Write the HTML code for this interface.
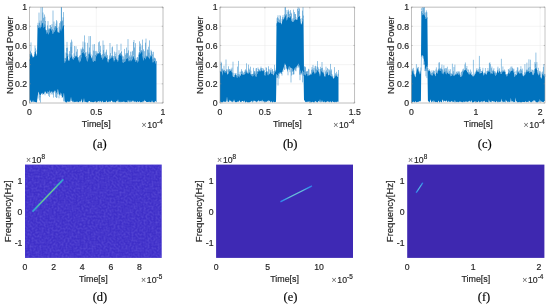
<!DOCTYPE html>
<html><head><meta charset="utf-8"><title>figure</title>
<style>
html,body{margin:0;padding:0;background:#fff;}
svg{display:block}
.t{font-family:"Liberation Sans",Arial,sans-serif;font-size:8.7px;fill:#262626;stroke:#262626;stroke-width:0.18px;}
.l{font-family:"Liberation Sans",Arial,sans-serif;font-size:8.9px;fill:#262626;stroke:#262626;stroke-width:0.18px;}
.c{font-family:"Liberation Serif","Times New Roman",serif;font-size:12.5px;fill:#000;stroke:#000;stroke-width:0.15px;}
</style></head><body>
<svg width="550" height="308" viewBox="0 0 550 308">
<defs>
<filter id="nz" x="0" y="0" width="100%" height="100%">
<feTurbulence type="fractalNoise" baseFrequency="0.5" numOctaves="2" seed="3" result="n"/>
<feColorMatrix in="n" type="matrix" values="0 0 0 0 0.30  0 0 0 0 0.25  0 0 0 0 0.90  1.6 0 0 0 -0.55"/>
</filter>
</defs>
<rect width="550" height="308" fill="#fff"/>
<rect x="29.5" y="7.1" width="133.5" height="95.9" fill="#fff"/>
<line x1="29.50" y1="7.1" x2="29.50" y2="103.0" stroke="#e9e9e9" stroke-width="0.5"/>
<line x1="96.25" y1="7.1" x2="96.25" y2="103.0" stroke="#e9e9e9" stroke-width="0.5"/>
<line x1="163.00" y1="7.1" x2="163.00" y2="103.0" stroke="#e9e9e9" stroke-width="0.5"/>
<line x1="29.5" y1="103.00" x2="163" y2="103.00" stroke="#e9e9e9" stroke-width="0.5"/>
<line x1="29.5" y1="83.82" x2="163" y2="83.82" stroke="#e9e9e9" stroke-width="0.5"/>
<line x1="29.5" y1="64.64" x2="163" y2="64.64" stroke="#e9e9e9" stroke-width="0.5"/>
<line x1="29.5" y1="45.46" x2="163" y2="45.46" stroke="#e9e9e9" stroke-width="0.5"/>
<line x1="29.5" y1="26.28" x2="163" y2="26.28" stroke="#e9e9e9" stroke-width="0.5"/>
<line x1="29.5" y1="7.10" x2="163" y2="7.10" stroke="#e9e9e9" stroke-width="0.5"/>
<polygon points="29.5,60.8 30.0,57.3 30.5,53.1 31.0,51.1 31.5,54.7 32.0,54.2 32.5,57.1 33.0,57.8 33.5,56.3 34.0,57.5 34.5,53.0 35.0,54.1 35.5,49.9 36.0,52.4 36.5,55.2 37.0,56.1 37.5,27.8 38.0,27.5 38.5,27.4 39.0,27.2 39.5,26.6 40.0,28.9 40.5,26.7 41.0,27.6 41.5,25.8 42.0,23.5 42.5,21.8 43.0,23.9 43.5,27.7 44.0,27.2 44.5,26.4 45.0,22.6 45.5,27.9 46.0,31.1 46.5,33.1 47.0,33.9 47.5,31.5 48.0,32.7 48.5,34.7 49.0,33.3 49.5,31.5 50.0,27.1 50.5,28.3 51.0,29.5 51.5,29.8 52.0,31.3 52.5,33.6 53.0,34.2 53.5,31.9 54.0,31.6 54.5,32.0 55.0,31.1 55.5,28.9 56.0,24.9 56.5,25.8 57.0,29.6 57.5,32.0 58.0,32.3 58.5,32.6 59.0,32.8 59.5,32.9 60.0,29.1 60.5,29.1 61.0,31.4 61.5,31.1 62.0,29.7 62.5,25.0 63.0,24.5 63.5,25.2 64.0,26.2 64.5,63.0 65.0,63.0 65.5,60.2 66.0,60.9 66.5,55.2 67.0,51.7 67.5,54.9 68.0,57.0 68.5,61.1 69.0,61.0 69.5,60.1 70.0,58.0 70.5,57.5 71.0,56.4 71.5,56.2 72.0,53.3 72.5,58.5 73.0,59.6 73.5,60.1 74.0,58.6 74.5,57.4 75.0,57.7 75.5,55.6 76.0,56.9 76.5,55.5 77.0,56.2 77.5,56.8 78.0,58.2 78.5,59.2 79.0,62.1 79.5,62.4 80.0,60.1 80.5,62.1 81.0,59.2 81.5,56.0 82.0,52.0 82.5,53.0 83.0,52.5 83.5,51.0 84.0,54.3 84.5,52.2 85.0,56.1 85.5,56.4 86.0,57.2 86.5,57.9 87.0,61.4 87.5,61.2 88.0,60.3 88.5,55.7 89.0,51.5 89.5,52.7 90.0,54.9 90.5,55.3 91.0,56.1 91.5,59.1 92.0,56.6 92.5,59.6 93.0,61.9 93.5,61.4 94.0,61.2 94.5,60.8 95.0,60.5 95.5,61.4 96.0,56.9 96.5,55.1 97.0,55.6 97.5,52.7 98.0,53.9 98.5,52.0 99.0,54.5 99.5,50.5 100.0,53.2 100.5,52.1 101.0,56.0 101.5,57.0 102.0,58.3 102.5,59.3 103.0,59.7 103.5,56.8 104.0,57.9 104.5,55.4 105.0,55.7 105.5,56.3 106.0,57.4 106.5,57.6 107.0,58.3 107.5,60.3 108.0,62.7 108.5,61.8 109.0,59.6 109.5,59.8 110.0,56.6 110.5,58.8 111.0,58.7 111.5,56.7 112.0,53.9 112.5,57.3 113.0,57.4 113.5,57.4 114.0,62.2 114.5,59.1 115.0,60.4 115.5,55.0 116.0,58.6 116.5,59.6 117.0,59.8 117.5,61.3 118.0,62.0 118.5,59.1 119.0,54.3 119.5,53.9 120.0,55.7 120.5,55.6 121.0,50.8 121.5,53.0 122.0,57.9 122.5,60.9 123.0,63.3 123.5,62.7 124.0,61.5 124.5,61.4 125.0,61.9 125.5,60.5 126.0,59.6 126.5,57.9 127.0,58.7 127.5,57.8 128.0,58.3 128.5,60.6 129.0,61.4 129.5,59.2 130.0,62.0 130.5,58.9 131.0,59.5 131.5,61.6 132.0,59.5 132.5,59.2 133.0,58.3 133.5,55.1 134.0,57.5 134.5,59.8 135.0,59.6 135.5,62.3 136.0,61.5 136.5,61.0 137.0,59.6 137.5,62.8 138.0,62.3 138.5,60.3 139.0,55.8 139.5,51.0 140.0,52.6 140.5,53.8 141.0,52.9 141.5,51.0 142.0,49.8 142.5,54.8 143.0,59.2 143.5,61.0 144.0,57.9 144.5,56.9 145.0,58.6 145.5,59.4 146.0,57.7 146.5,56.7 147.0,55.6 147.5,56.6 148.0,56.2 148.5,57.7 149.0,57.1 149.5,59.6 150.0,58.0 150.5,55.3 151.0,55.5 151.5,56.2 152.0,56.3 152.5,61.7 153.0,62.8 153.5,61.5 154.0,61.0 154.5,60.2 155.0,61.4 155.5,63.8 156.0,63.3 156.5,63.6 156.5,102.2 156.0,102.0 155.5,100.9 155.0,100.9 154.5,102.4 154.0,102.2 153.5,102.2 153.0,102.2 152.5,101.7 152.0,100.3 151.5,101.9 151.0,102.3 150.5,102.1 150.0,102.2 149.5,101.8 149.0,101.4 148.5,102.0 148.0,101.9 147.5,101.9 147.0,102.1 146.5,102.1 146.0,101.8 145.5,100.8 145.0,101.4 144.5,99.5 144.0,102.4 143.5,101.5 143.0,100.7 142.5,102.3 142.0,102.3 141.5,102.1 141.0,102.2 140.5,102.2 140.0,102.3 139.5,100.9 139.0,102.1 138.5,102.0 138.0,101.7 137.5,101.0 137.0,102.4 136.5,101.9 136.0,102.0 135.5,101.4 135.0,101.5 134.5,102.2 134.0,100.9 133.5,102.0 133.0,100.0 132.5,102.0 132.0,100.5 131.5,101.9 131.0,101.9 130.5,102.2 130.0,100.0 129.5,102.4 129.0,101.8 128.5,101.8 128.0,99.6 127.5,102.4 127.0,102.2 126.5,102.1 126.0,102.0 125.5,102.2 125.0,102.2 124.5,101.6 124.0,102.2 123.5,101.2 123.0,102.0 122.5,102.0 122.0,101.6 121.5,102.0 121.0,102.3 120.5,102.3 120.0,101.2 119.5,102.3 119.0,101.9 118.5,102.3 118.0,99.3 117.5,101.5 117.0,101.6 116.5,101.1 116.0,102.2 115.5,102.3 115.0,102.4 114.5,101.6 114.0,102.4 113.5,102.0 113.0,101.5 112.5,102.3 112.0,100.7 111.5,100.5 111.0,101.3 110.5,102.3 110.0,101.0 109.5,102.0 109.0,101.4 108.5,101.8 108.0,102.0 107.5,102.0 107.0,102.4 106.5,100.2 106.0,101.4 105.5,102.1 105.0,102.3 104.5,102.1 104.0,101.9 103.5,102.3 103.0,102.2 102.5,100.4 102.0,102.0 101.5,102.4 101.0,101.2 100.5,101.7 100.0,100.4 99.5,101.8 99.0,102.4 98.5,100.9 98.0,100.9 97.5,102.1 97.0,102.3 96.5,101.9 96.0,102.2 95.5,100.9 95.0,101.9 94.5,101.5 94.0,102.2 93.5,102.3 93.0,101.9 92.5,102.2 92.0,101.7 91.5,102.3 91.0,101.4 90.5,102.3 90.0,101.5 89.5,101.1 89.0,101.0 88.5,101.4 88.0,102.4 87.5,102.4 87.0,102.0 86.5,102.3 86.0,102.2 85.5,101.7 85.0,101.8 84.5,102.3 84.0,97.9 83.5,101.6 83.0,101.9 82.5,102.4 82.0,101.9 81.5,98.5 81.0,101.8 80.5,101.5 80.0,101.5 79.5,101.2 79.0,102.2 78.5,102.1 78.0,102.2 77.5,101.9 77.0,101.0 76.5,102.0 76.0,102.1 75.5,102.0 75.0,101.4 74.5,102.3 74.0,102.0 73.5,102.3 73.0,100.3 72.5,102.3 72.0,101.2 71.5,101.0 71.0,96.8 70.5,100.7 70.0,102.3 69.5,101.4 69.0,101.6 68.5,101.9 68.0,101.6 67.5,101.2 67.0,102.4 66.5,102.4 66.0,102.2 65.5,102.3 65.0,101.3 64.5,101.7 64.0,92.4 63.5,94.6 63.0,96.9 62.5,97.1 62.0,97.2 61.5,94.8 61.0,92.5 60.5,93.0 60.0,93.9 59.5,94.8 59.0,95.7 58.5,92.9 58.0,89.0 57.5,90.3 57.0,93.2 56.5,93.1 56.0,91.9 55.5,90.9 55.0,90.4 54.5,90.8 54.0,91.5 53.5,92.3 53.0,93.1 52.5,92.7 52.0,91.0 51.5,91.2 51.0,93.1 50.5,93.1 50.0,91.0 49.5,90.5 49.0,92.1 48.5,92.6 48.0,91.5 47.5,91.5 47.0,93.2 46.5,93.8 46.0,92.4 45.5,91.4 45.0,91.5 44.5,91.9 44.0,93.4 43.5,94.4 43.0,93.5 42.5,92.7 42.0,93.1 41.5,93.6 41.0,94.6 40.5,95.5 40.0,95.3 39.5,95.1 39.0,93.2 38.5,91.6 38.0,94.3 37.5,97.0 37.0,102.2 36.5,102.4 36.0,102.3 35.5,102.0 35.0,102.2 34.5,101.5 34.0,102.2 33.5,102.1 33.0,100.1 32.5,102.2 32.0,101.6 31.5,102.0 31.0,102.4 30.5,99.4 30.0,101.4 29.5,101.8" fill="#0072BD"/>
<path d="M29.5,60.8V59.7 M30.0,57.3V54.0 M30.5,53.1V50.8 M31.0,51.1V42.4 M31.5,54.7V53.1 M32.0,54.2V54.2 M32.5,57.1V56.2 M33.0,57.8V57.0 M33.5,56.3V56.1 M34.0,57.5V57.4 M34.5,53.0V52.3 M35.0,54.1V45.6 M35.5,49.9V48.3 M36.0,52.4V49.8 M36.5,55.2V54.5 M37.0,56.1V55.7 M37.5,27.8V25.1 M38.0,27.5V22.8 M38.5,27.4V25.6 M39.0,27.2V12.6 M39.5,26.6V22.8 M40.0,28.9V20.6 M40.5,26.7V25.5 M41.0,27.6V7.1 M41.5,25.8V20.6 M42.0,23.5V23.1 M42.5,21.8V7.1 M43.0,23.9V12.5 M43.5,27.7V17.8 M44.0,27.2V23.4 M44.5,26.4V14.5 M45.0,22.6V16.8 M45.5,27.9V21.0 M46.0,31.1V30.6 M46.5,33.1V30.0 M47.0,33.9V30.7 M47.5,31.5V25.4 M48.0,32.7V21.1 M48.5,34.7V29.5 M49.0,33.3V28.3 M49.5,31.5V28.8 M50.0,27.1V25.2 M50.5,28.3V25.1 M51.0,29.5V29.2 M51.5,29.8V27.0 M52.0,31.3V24.1 M52.5,33.6V29.2 M53.0,34.2V10.5 M53.5,31.9V30.3 M54.0,31.6V21.5 M54.5,32.0V27.5 M55.0,31.1V25.7 M55.5,28.9V26.0 M56.0,24.9V23.6 M56.5,25.8V20.1 M57.0,29.6V21.3 M57.5,32.0V28.1 M58.0,32.3V32.1 M58.5,32.6V31.9 M59.0,32.8V26.7 M59.5,32.9V23.1 M60.0,29.1V28.7 M60.5,29.1V21.2 M61.0,31.4V22.3 M61.5,31.1V29.7 M62.0,29.7V21.2 M62.5,25.0V20.5 M63.0,24.5V17.3 M63.5,25.2V12.1 M64.0,26.2V25.3 M64.5,63.0V61.4 M65.0,63.0V58.1 M65.5,60.2V58.2 M66.0,60.9V52.5 M66.5,55.2V47.9 M67.0,51.7V41.9 M67.5,54.9V47.7 M68.0,57.0V54.3 M68.5,61.1V60.1 M69.0,61.0V60.9 M69.5,60.1V51.1 M70.0,58.0V53.9 M70.5,57.5V42.5 M71.0,56.4V46.7 M71.5,56.2V39.6 M72.0,53.3V41.6 M72.5,58.5V58.3 M73.0,59.6V58.6 M73.5,60.1V57.1 M74.0,58.6V53.4 M74.5,57.4V46.0 M75.0,57.7V55.9 M75.5,55.6V55.5 M76.0,56.9V46.2 M76.5,55.5V51.7 M77.0,56.2V55.3 M77.5,56.8V49.2 M78.0,58.2V57.1 M78.5,59.2V57.3 M79.0,62.1V60.1 M79.5,62.4V56.1 M80.0,60.1V55.2 M80.5,62.1V54.9 M81.0,59.2V48.6 M81.5,56.0V50.4 M82.0,52.0V49.1 M82.5,53.0V47.4 M83.0,52.5V41.5 M83.5,51.0V48.8 M84.0,54.3V50.5 M84.5,52.2V35.4 M85.0,56.1V42.4 M85.5,56.4V52.7 M86.0,57.2V52.1 M86.5,57.9V56.0 M87.0,61.4V57.8 M87.5,61.2V42.8 M88.0,60.3V51.4 M88.5,55.7V54.2 M89.0,51.5V36.1 M89.5,52.7V47.5 M90.0,54.9V52.4 M90.5,55.3V36.1 M91.0,56.1V54.2 M91.5,59.1V58.6 M92.0,56.6V56.5 M92.5,59.6V55.5 M93.0,61.9V44.4 M93.5,61.4V50.6 M94.0,61.2V60.5 M94.5,60.8V44.1 M95.0,60.5V51.2 M95.5,61.4V55.0 M96.0,56.9V50.8 M96.5,55.1V53.6 M97.0,55.6V51.4 M97.5,52.7V52.6 M98.0,53.9V53.7 M98.5,52.0V42.3 M99.0,54.5V54.3 M99.5,50.5V41.4 M100.0,53.2V49.8 M100.5,52.1V45.8 M101.0,56.0V54.7 M101.5,57.0V55.2 M102.0,58.3V57.6 M102.5,59.3V54.1 M103.0,59.7V40.5 M103.5,56.8V50.1 M104.0,57.9V44.9 M104.5,55.4V54.2 M105.0,55.7V52.6 M105.5,56.3V55.4 M106.0,57.4V51.7 M106.5,57.6V49.6 M107.0,58.3V56.5 M107.5,60.3V54.9 M108.0,62.7V61.9 M108.5,61.8V59.2 M109.0,59.6V59.1 M109.5,59.8V55.6 M110.0,56.6V43.0 M110.5,58.8V53.1 M111.0,58.7V58.0 M111.5,56.7V56.3 M112.0,53.9V47.4 M112.5,57.3V46.5 M113.0,57.4V55.9 M113.5,57.4V56.4 M114.0,62.2V61.5 M114.5,59.1V51.6 M115.0,60.4V55.9 M115.5,55.0V54.4 M116.0,58.6V52.3 M116.5,59.6V58.7 M117.0,59.8V44.2 M117.5,61.3V59.9 M118.0,62.0V58.5 M118.5,59.1V54.8 M119.0,54.3V50.2 M119.5,53.9V53.7 M120.0,55.7V53.7 M120.5,55.6V53.0 M121.0,50.8V43.7 M121.5,53.0V51.2 M122.0,57.9V54.8 M122.5,60.9V56.2 M123.0,63.3V59.5 M123.5,62.7V56.4 M124.0,61.5V59.2 M124.5,61.4V48.9 M125.0,61.9V58.7 M125.5,60.5V54.7 M126.0,59.6V53.1 M126.5,57.9V47.6 M127.0,58.7V53.6 M127.5,57.8V52.9 M128.0,58.3V39.1 M128.5,60.6V50.4 M129.0,61.4V56.8 M129.5,59.2V55.5 M130.0,62.0V58.3 M130.5,58.9V51.7 M131.0,59.5V57.1 M131.5,61.6V55.5 M132.0,59.5V51.6 M132.5,59.2V50.8 M133.0,58.3V56.7 M133.5,55.1V42.0 M134.0,57.5V40.0 M134.5,59.8V47.5 M135.0,59.6V58.4 M135.5,62.3V43.1 M136.0,61.5V59.7 M136.5,61.0V60.0 M137.0,59.6V57.6 M137.5,62.8V57.0 M138.0,62.3V60.4 M138.5,60.3V54.6 M139.0,55.8V52.5 M139.5,51.0V41.3 M140.0,52.6V46.7 M140.5,53.8V43.6 M141.0,52.9V51.4 M141.5,51.0V50.2 M142.0,49.8V45.4 M142.5,54.8V39.6 M143.0,59.2V50.5 M143.5,61.0V49.3 M144.0,57.9V57.5 M144.5,56.9V51.2 M145.0,58.6V55.8 M145.5,59.4V42.7 M146.0,57.7V38.6 M146.5,56.7V55.9 M147.0,55.6V55.5 M147.5,56.6V49.4 M148.0,56.2V50.0 M148.5,57.7V46.7 M149.0,57.1V52.7 M149.5,59.6V40.4 M150.0,58.0V58.0 M150.5,55.3V55.1 M151.0,55.5V49.8 M151.5,56.2V51.0 M152.0,56.3V52.1 M152.5,61.7V54.4 M153.0,62.8V59.0 M153.5,61.5V51.8 M154.0,61.0V57.9 M154.5,60.2V57.6 M155.0,61.4V58.3 M155.5,63.8V58.6 M156.0,63.3V61.3 M156.5,63.6V60.9 M38.0,94.3V98.6 M38.5,91.6V92.1 M39.0,93.2V94.5 M39.5,95.1V100.5 M40.0,95.3V97.4 M40.5,95.5V102.6 M42.0,93.1V93.9 M42.5,92.7V94.8 M44.0,93.4V94.1 M44.5,91.9V92.8 M45.0,91.5V95.3 M45.5,91.4V92.1 M47.0,93.2V93.9 M47.5,91.5V93.4 M48.0,91.5V93.7 M48.5,92.6V95.8 M49.0,92.1V93.6 M49.5,90.5V97.0 M50.0,91.0V91.6 M51.0,93.1V94.5 M51.5,91.2V91.9 M52.0,91.0V94.2 M53.0,93.1V94.7 M53.5,92.3V97.6 M54.0,91.5V92.7 M54.5,90.8V91.7 M55.0,90.4V90.9 M55.5,90.9V97.1 M56.0,91.9V93.5 M56.5,93.1V98.0 M57.0,93.2V97.5 M57.5,90.3V94.3 M59.0,95.7V98.3 M59.5,94.8V95.5 M60.0,93.9V94.4 M60.5,93.0V95.3 M61.0,92.5V93.8 M61.5,94.8V95.5 M62.0,97.2V97.9 M62.5,97.1V97.7 M63.5,94.6V101.4 M64.0,92.4V94.7" fill="none" stroke="#0072BD" stroke-width="0.42"/>
<path d="M61.4,7.1V40" fill="none" stroke="#0072BD" stroke-width="0.7"/>
<rect x="29.5" y="7.1" width="133.5" height="95.9" fill="none" stroke="#8c8c8c" stroke-width="0.5"/>
<line x1="29.50" y1="103.0" x2="29.50" y2="101.7" stroke="#8c8c8c" stroke-width="0.5"/>
<line x1="29.50" y1="7.1" x2="29.50" y2="8.4" stroke="#8c8c8c" stroke-width="0.5"/>
<line x1="96.25" y1="103.0" x2="96.25" y2="101.7" stroke="#8c8c8c" stroke-width="0.5"/>
<line x1="96.25" y1="7.1" x2="96.25" y2="8.4" stroke="#8c8c8c" stroke-width="0.5"/>
<line x1="163.00" y1="103.0" x2="163.00" y2="101.7" stroke="#8c8c8c" stroke-width="0.5"/>
<line x1="163.00" y1="7.1" x2="163.00" y2="8.4" stroke="#8c8c8c" stroke-width="0.5"/>
<line x1="29.5" y1="103.00" x2="30.8" y2="103.00" stroke="#8c8c8c" stroke-width="0.5"/>
<line x1="163" y1="103.00" x2="161.7" y2="103.00" stroke="#8c8c8c" stroke-width="0.5"/>
<text transform="translate(27.10,106.30) scale(1,1.07)" text-anchor="end" class="t">0</text>
<line x1="29.5" y1="83.82" x2="30.8" y2="83.82" stroke="#8c8c8c" stroke-width="0.5"/>
<line x1="163" y1="83.82" x2="161.7" y2="83.82" stroke="#8c8c8c" stroke-width="0.5"/>
<text transform="translate(27.10,87.12) scale(1,1.07)" text-anchor="end" class="t">0.2</text>
<line x1="29.5" y1="64.64" x2="30.8" y2="64.64" stroke="#8c8c8c" stroke-width="0.5"/>
<line x1="163" y1="64.64" x2="161.7" y2="64.64" stroke="#8c8c8c" stroke-width="0.5"/>
<text transform="translate(27.10,67.94) scale(1,1.07)" text-anchor="end" class="t">0.4</text>
<line x1="29.5" y1="45.46" x2="30.8" y2="45.46" stroke="#8c8c8c" stroke-width="0.5"/>
<line x1="163" y1="45.46" x2="161.7" y2="45.46" stroke="#8c8c8c" stroke-width="0.5"/>
<text transform="translate(27.10,48.76) scale(1,1.07)" text-anchor="end" class="t">0.6</text>
<line x1="29.5" y1="26.28" x2="30.8" y2="26.28" stroke="#8c8c8c" stroke-width="0.5"/>
<line x1="163" y1="26.28" x2="161.7" y2="26.28" stroke="#8c8c8c" stroke-width="0.5"/>
<text transform="translate(27.10,29.58) scale(1,1.07)" text-anchor="end" class="t">0.8</text>
<line x1="29.5" y1="7.10" x2="30.8" y2="7.10" stroke="#8c8c8c" stroke-width="0.5"/>
<line x1="163" y1="7.10" x2="161.7" y2="7.10" stroke="#8c8c8c" stroke-width="0.5"/>
<text transform="translate(27.10,10.40) scale(1,1.07)" text-anchor="end" class="t">1</text>
<text transform="translate(29.50,115.00) scale(1,1.07)" text-anchor="middle" class="t">0</text>
<text transform="translate(96.25,115.00) scale(1,1.07)" text-anchor="middle" class="t">0.5</text>
<text transform="translate(163.00,115.00) scale(1,1.07)" text-anchor="middle" class="t">1</text>
<text transform="translate(96.25,126.60) scale(1,1.07)" text-anchor="middle" class="l">Time[s]</text>
<text transform="translate(162.70,127.80) scale(1,1.07)" text-anchor="end" class="t"><tspan fill="#555" stroke="none">×</tspan><tspan dx="0.8">10</tspan><tspan dy="-3.6" font-size="6.4">-4</tspan></text>
<text transform="translate(13.00,55.05) scale(1,1.07) rotate(-90)" text-anchor="middle" class="l">Normalized Power</text>
<rect x="220" y="7.1" width="134.7" height="95.9" fill="#fff"/>
<line x1="220.00" y1="7.1" x2="220.00" y2="103.0" stroke="#e9e9e9" stroke-width="0.5"/>
<line x1="264.90" y1="7.1" x2="264.90" y2="103.0" stroke="#e9e9e9" stroke-width="0.5"/>
<line x1="309.80" y1="7.1" x2="309.80" y2="103.0" stroke="#e9e9e9" stroke-width="0.5"/>
<line x1="354.70" y1="7.1" x2="354.70" y2="103.0" stroke="#e9e9e9" stroke-width="0.5"/>
<line x1="220" y1="103.00" x2="354.7" y2="103.00" stroke="#e9e9e9" stroke-width="0.5"/>
<line x1="220" y1="83.82" x2="354.7" y2="83.82" stroke="#e9e9e9" stroke-width="0.5"/>
<line x1="220" y1="64.64" x2="354.7" y2="64.64" stroke="#e9e9e9" stroke-width="0.5"/>
<line x1="220" y1="45.46" x2="354.7" y2="45.46" stroke="#e9e9e9" stroke-width="0.5"/>
<line x1="220" y1="26.28" x2="354.7" y2="26.28" stroke="#e9e9e9" stroke-width="0.5"/>
<line x1="220" y1="7.10" x2="354.7" y2="7.10" stroke="#e9e9e9" stroke-width="0.5"/>
<polygon points="220.0,72.2 220.5,71.2 221.0,70.0 221.5,70.9 222.0,72.6 222.5,75.8 223.0,71.8 223.5,69.8 224.0,71.5 224.5,72.1 225.0,72.7 225.5,72.4 226.0,69.9 226.5,72.1 227.0,72.4 227.5,75.1 228.0,73.3 228.5,74.0 229.0,72.2 229.5,70.8 230.0,70.3 230.5,71.3 231.0,69.7 231.5,72.5 232.0,71.8 232.5,74.7 233.0,77.0 233.5,77.0 234.0,76.5 234.5,77.6 235.0,75.6 235.5,73.7 236.0,74.0 236.5,75.4 237.0,78.3 237.5,77.3 238.0,75.0 238.5,75.4 239.0,77.4 239.5,76.9 240.0,75.2 240.5,76.0 241.0,73.7 241.5,73.7 242.0,74.1 242.5,74.5 243.0,74.5 243.5,74.0 244.0,75.3 244.5,73.7 245.0,74.1 245.5,73.0 246.0,70.1 246.5,72.4 247.0,72.3 247.5,73.1 248.0,73.7 248.5,73.6 249.0,71.5 249.5,72.0 250.0,73.1 250.5,74.7 251.0,73.6 251.5,75.7 252.0,75.5 252.5,76.3 253.0,76.6 253.5,75.1 254.0,71.5 254.5,73.8 255.0,75.4 255.5,75.9 256.0,76.7 256.5,77.1 257.0,74.3 257.5,73.4 258.0,70.3 258.5,72.1 259.0,70.9 259.5,69.9 260.0,71.9 260.5,70.4 261.0,70.7 261.5,70.2 262.0,69.2 262.5,71.4 263.0,70.4 263.5,69.7 264.0,71.8 264.5,74.2 265.0,75.9 265.5,75.0 266.0,70.8 266.5,70.7 267.0,72.9 267.5,74.0 268.0,75.5 268.5,74.7 269.0,73.0 269.5,74.4 270.0,71.9 270.5,71.8 271.0,73.2 271.5,73.4 272.0,74.3 272.5,73.6 273.0,74.5 273.5,75.6 274.0,73.9 274.5,72.4 275.0,69.6 275.5,71.3 276.0,72.3 276.5,25.6 277.0,23.2 277.5,20.5 278.0,20.9 278.5,22.2 279.0,22.3 279.5,22.5 280.0,23.3 280.5,22.6 281.0,22.0 281.5,25.1 282.0,22.5 282.5,19.6 283.0,18.6 283.5,19.7 284.0,18.9 284.5,16.7 285.0,15.9 285.5,14.6 286.0,17.0 286.5,19.9 287.0,20.5 287.5,17.7 288.0,16.9 288.5,16.4 289.0,17.4 289.5,18.1 290.0,16.7 290.5,15.1 291.0,18.4 291.5,20.1 292.0,21.4 292.5,21.5 293.0,22.2 293.5,21.0 294.0,21.2 294.5,18.9 295.0,20.2 295.5,18.2 296.0,19.4 296.5,19.7 297.0,20.2 297.5,19.0 298.0,17.2 298.5,16.2 299.0,16.5 299.5,14.7 300.0,17.4 300.5,19.8 301.0,24.8 301.5,23.9 302.0,22.7 302.5,20.0 303.0,18.5 303.5,17.9 304.0,73.7 304.5,74.9 305.0,74.0 305.5,75.9 306.0,73.5 306.5,73.8 307.0,73.3 307.5,75.1 308.0,76.6 308.5,74.7 309.0,73.9 309.5,75.7 310.0,73.5 310.5,75.1 311.0,73.5 311.5,74.9 312.0,73.1 312.5,72.3 313.0,70.7 313.5,71.6 314.0,72.0 314.5,72.8 315.0,74.6 315.5,71.6 316.0,73.4 316.5,71.1 317.0,71.5 317.5,69.4 318.0,70.6 318.5,71.5 319.0,72.6 319.5,74.4 320.0,76.7 320.5,73.2 321.0,72.5 321.5,70.1 322.0,71.0 322.5,71.4 323.0,73.2 323.5,72.2 324.0,74.8 324.5,76.4 325.0,76.6 325.5,76.6 326.0,74.5 326.5,73.3 327.0,73.0 327.5,70.7 328.0,74.3 328.5,75.7 329.0,73.8 329.5,75.3 330.0,73.8 330.5,76.2 331.0,75.5 331.5,76.7 332.0,75.6 332.5,75.9 333.0,77.9 333.5,79.1 334.0,77.1 334.5,77.8 335.0,77.2 335.5,75.3 336.0,75.5 336.5,76.1 337.0,74.9 337.5,77.2 338.0,76.4 338.5,76.1 338.5,101.8 338.0,101.8 337.5,101.7 337.0,101.6 336.5,102.2 336.0,102.2 335.5,102.0 335.0,101.6 334.5,102.4 334.0,102.0 333.5,102.1 333.0,101.8 332.5,101.0 332.0,102.3 331.5,102.3 331.0,102.2 330.5,101.0 330.0,102.3 329.5,102.3 329.0,101.3 328.5,101.7 328.0,102.0 327.5,101.3 327.0,101.3 326.5,101.9 326.0,102.0 325.5,102.3 325.0,102.4 324.5,101.6 324.0,101.5 323.5,102.3 323.0,102.0 322.5,101.7 322.0,100.0 321.5,102.0 321.0,102.3 320.5,102.2 320.0,99.0 319.5,102.0 319.0,101.8 318.5,100.7 318.0,101.8 317.5,102.4 317.0,102.2 316.5,101.4 316.0,102.4 315.5,101.0 315.0,101.0 314.5,102.4 314.0,102.2 313.5,102.4 313.0,101.7 312.5,101.7 312.0,102.2 311.5,102.3 311.0,102.2 310.5,102.4 310.0,100.9 309.5,102.2 309.0,101.2 308.5,102.3 308.0,101.1 307.5,101.9 307.0,102.2 306.5,101.9 306.0,101.6 305.5,102.2 305.0,101.5 304.5,99.9 304.0,100.8 303.5,72.8 303.0,71.5 302.5,70.3 302.0,71.8 301.5,73.7 301.0,73.6 300.5,72.0 300.0,69.3 299.5,66.4 299.0,64.7 298.5,63.5 298.0,64.4 297.5,65.4 297.0,66.2 296.5,66.8 296.0,67.2 295.5,67.4 295.0,68.0 294.5,68.8 294.0,69.9 293.5,71.6 293.0,72.7 292.5,70.2 292.0,67.9 291.5,68.0 291.0,68.1 290.5,67.5 290.0,67.5 289.5,66.7 289.0,65.9 288.5,68.4 288.0,71.2 287.5,71.0 287.0,68.4 286.5,66.9 286.0,65.8 285.5,64.7 285.0,63.6 284.5,63.9 284.0,66.4 283.5,68.2 283.0,69.4 282.5,70.9 282.0,72.7 281.5,72.8 281.0,72.6 280.5,72.4 280.0,72.6 279.5,72.7 279.0,72.9 278.5,73.7 278.0,74.9 277.5,76.0 277.0,74.8 276.5,73.7 276.0,101.9 275.5,101.8 275.0,102.3 274.5,102.1 274.0,102.2 273.5,101.3 273.0,102.2 272.5,102.4 272.0,102.1 271.5,101.0 271.0,102.3 270.5,102.2 270.0,101.3 269.5,101.3 269.0,100.2 268.5,100.4 268.0,102.2 267.5,100.8 267.0,101.0 266.5,102.1 266.0,101.9 265.5,101.7 265.0,101.5 264.5,101.9 264.0,101.6 263.5,101.1 263.0,102.2 262.5,99.6 262.0,102.2 261.5,100.2 261.0,101.7 260.5,101.0 260.0,100.8 259.5,102.0 259.0,100.5 258.5,100.2 258.0,102.1 257.5,101.0 257.0,101.8 256.5,102.4 256.0,101.1 255.5,101.7 255.0,101.0 254.5,100.5 254.0,101.9 253.5,100.3 253.0,102.4 252.5,102.2 252.0,100.5 251.5,101.6 251.0,101.2 250.5,102.0 250.0,102.1 249.5,102.3 249.0,102.4 248.5,102.2 248.0,102.3 247.5,102.4 247.0,102.1 246.5,101.6 246.0,102.2 245.5,102.4 245.0,102.0 244.5,100.2 244.0,102.2 243.5,101.4 243.0,101.2 242.5,101.1 242.0,101.1 241.5,101.8 241.0,102.3 240.5,102.0 240.0,101.5 239.5,100.1 239.0,101.7 238.5,101.8 238.0,101.2 237.5,101.7 237.0,101.9 236.5,102.3 236.0,102.1 235.5,102.3 235.0,101.9 234.5,101.2 234.0,99.3 233.5,101.9 233.0,101.0 232.5,102.3 232.0,102.0 231.5,101.5 231.0,101.2 230.5,100.3 230.0,102.1 229.5,99.5 229.0,102.1 228.5,101.9 228.0,101.4 227.5,101.7 227.0,96.4 226.5,101.8 226.0,101.3 225.5,102.1 225.0,102.1 224.5,101.7 224.0,101.6 223.5,101.6 223.0,101.9 222.5,102.4 222.0,101.9 221.5,102.4 221.0,102.1 220.5,101.8 220.0,101.8" fill="#0072BD"/>
<path d="M220.0,72.2V71.7 M220.5,71.2V71.0 M221.0,70.0V61.7 M221.5,70.9V62.8 M222.0,72.6V69.3 M222.5,75.8V68.6 M223.0,71.8V70.5 M223.5,69.8V69.6 M224.0,71.5V65.7 M224.5,72.1V69.9 M225.0,72.7V70.5 M225.5,72.4V71.1 M226.0,69.9V59.5 M226.5,72.1V69.5 M227.0,72.4V69.4 M227.5,75.1V74.9 M228.0,73.3V69.3 M228.5,74.0V66.3 M229.0,72.2V70.4 M229.5,70.8V69.1 M230.0,70.3V69.2 M230.5,71.3V70.6 M231.0,69.7V68.7 M231.5,72.5V69.6 M232.0,71.8V67.6 M232.5,74.7V72.3 M233.0,77.0V61.7 M233.5,77.0V76.8 M234.0,76.5V73.0 M234.5,77.6V75.1 M235.0,75.6V75.2 M235.5,73.7V73.3 M236.0,74.0V73.0 M236.5,75.4V74.9 M237.0,78.3V75.3 M237.5,77.3V66.6 M238.0,75.0V74.1 M238.5,75.4V60.9 M239.0,77.4V74.4 M239.5,76.9V74.6 M240.0,75.2V71.7 M240.5,76.0V75.8 M241.0,73.7V71.7 M241.5,73.7V69.2 M242.0,74.1V70.8 M242.5,74.5V71.5 M243.0,74.5V74.1 M243.5,74.0V72.6 M244.0,75.3V75.0 M244.5,73.7V71.9 M245.0,74.1V70.3 M245.5,73.0V69.3 M246.0,70.1V70.1 M246.5,72.4V63.3 M247.0,72.3V70.6 M247.5,73.1V72.5 M248.0,73.7V73.4 M248.5,73.6V64.6 M249.0,71.5V68.5 M249.5,72.0V69.6 M250.0,73.1V73.0 M250.5,74.7V66.7 M251.0,73.6V70.7 M251.5,75.7V74.2 M252.0,75.5V73.8 M252.5,76.3V74.0 M253.0,76.6V74.0 M253.5,75.1V67.8 M254.0,71.5V70.8 M254.5,73.8V71.2 M255.0,75.4V71.3 M255.5,75.9V73.7 M256.0,76.7V68.4 M256.5,77.1V68.0 M257.0,74.3V71.6 M257.5,73.4V71.2 M258.0,70.3V67.5 M258.5,72.1V68.9 M259.0,70.9V69.8 M259.5,69.9V69.5 M260.0,71.9V70.4 M260.5,70.4V68.4 M261.0,70.7V66.6 M261.5,70.2V68.3 M262.0,69.2V68.0 M262.5,71.4V70.8 M263.0,70.4V68.2 M263.5,69.7V68.9 M264.0,71.8V71.0 M264.5,74.2V69.9 M265.0,75.9V75.1 M265.5,75.0V72.0 M266.0,70.8V67.2 M266.5,70.7V67.9 M267.0,72.9V71.1 M267.5,74.0V71.7 M268.0,75.5V72.3 M268.5,74.7V66.3 M269.0,73.0V69.0 M269.5,74.4V74.3 M270.0,71.9V69.8 M270.5,71.8V70.6 M271.0,73.2V67.8 M271.5,73.4V72.5 M272.0,74.3V69.9 M272.5,73.6V69.0 M273.0,74.5V71.4 M273.5,75.6V74.5 M274.0,73.9V71.2 M274.5,72.4V64.8 M275.0,69.6V68.6 M275.5,71.3V70.5 M276.0,72.3V71.2 M276.5,25.6V23.0 M277.0,23.2V18.2 M277.5,20.5V17.2 M278.0,20.9V15.3 M278.5,22.2V18.4 M279.0,22.3V22.0 M279.5,22.5V19.6 M280.0,23.3V15.1 M280.5,22.6V16.1 M281.0,22.0V21.7 M281.5,25.1V23.9 M282.0,22.5V19.1 M282.5,19.6V17.2 M283.0,18.6V15.2 M283.5,19.7V18.8 M284.0,18.9V17.2 M284.5,16.7V14.3 M285.0,15.9V7.1 M285.5,14.6V7.1 M286.0,17.0V14.2 M286.5,19.9V14.3 M287.0,20.5V10.0 M287.5,17.7V17.5 M288.0,16.9V11.9 M288.5,16.4V9.6 M289.0,17.4V11.2 M289.5,18.1V14.0 M290.0,16.7V16.7 M290.5,15.1V10.1 M291.0,18.4V12.6 M291.5,20.1V13.6 M292.0,21.4V20.7 M292.5,21.5V18.5 M293.0,22.2V21.6 M293.5,21.0V9.6 M294.0,21.2V18.2 M294.5,18.9V12.0 M295.0,20.2V14.0 M295.5,18.2V14.1 M296.0,19.4V17.2 M296.5,19.7V19.6 M297.0,20.2V19.1 M297.5,19.0V9.0 M298.0,17.2V7.1 M298.5,16.2V11.0 M299.0,16.5V7.5 M299.5,14.7V8.7 M300.0,17.4V16.4 M300.5,19.8V19.3 M301.0,24.8V24.6 M301.5,23.9V23.6 M302.0,22.7V18.0 M302.5,20.0V10.6 M303.0,18.5V7.1 M303.5,17.9V15.6 M304.0,73.7V70.3 M304.5,74.9V66.4 M305.0,74.0V66.5 M305.5,75.9V67.2 M306.0,73.5V72.0 M306.5,73.8V71.2 M307.0,73.3V71.6 M307.5,75.1V70.9 M308.0,76.6V74.6 M308.5,74.7V68.8 M309.0,73.9V69.3 M309.5,75.7V75.5 M310.0,73.5V72.9 M310.5,75.1V74.9 M311.0,73.5V73.3 M311.5,74.9V69.8 M312.0,73.1V67.1 M312.5,72.3V69.5 M313.0,70.7V64.9 M313.5,71.6V69.8 M314.0,72.0V68.0 M314.5,72.8V72.6 M315.0,74.6V66.3 M315.5,71.6V65.8 M316.0,73.4V68.7 M316.5,71.1V69.7 M317.0,71.5V66.4 M317.5,69.4V61.1 M318.0,70.6V67.1 M318.5,71.5V68.7 M319.0,72.6V72.3 M319.5,74.4V73.8 M320.0,76.7V69.0 M320.5,73.2V66.8 M321.0,72.5V69.3 M321.5,70.1V68.0 M322.0,71.0V62.0 M322.5,71.4V67.8 M323.0,73.2V71.9 M323.5,72.2V71.8 M324.0,74.8V69.8 M324.5,76.4V76.2 M325.0,76.6V74.1 M325.5,76.6V71.5 M326.0,74.5V66.7 M326.5,73.3V70.3 M327.0,73.0V72.6 M327.5,70.7V68.1 M328.0,74.3V69.4 M328.5,75.7V75.2 M329.0,73.8V69.2 M329.5,75.3V70.3 M330.0,73.8V72.6 M330.5,76.2V63.9 M331.0,75.5V70.7 M331.5,76.7V69.4 M332.0,75.6V74.0 M332.5,75.9V75.5 M333.0,77.9V77.8 M333.5,79.1V79.0 M334.0,77.1V76.4 M334.5,77.8V67.1 M335.0,77.2V75.2 M335.5,75.3V73.2 M336.0,75.5V74.2 M336.5,76.1V71.8 M337.0,74.9V74.8 M337.5,77.2V76.8 M338.0,76.4V73.7 M338.5,76.1V70.0 M276.5,73.7V74.4 M277.0,74.8V78.0 M277.5,76.0V77.7 M278.0,74.9V85.5 M278.5,73.7V76.3 M279.0,72.9V78.6 M279.5,72.7V74.0 M280.0,72.6V73.4 M280.5,72.4V72.9 M281.0,72.6V73.6 M281.5,72.8V74.0 M282.0,72.7V75.6 M282.5,70.9V71.4 M283.0,69.4V71.8 M284.0,66.4V69.4 M284.5,63.9V70.0 M285.0,63.6V65.1 M286.0,65.8V69.3 M286.5,66.9V68.4 M287.0,68.4V69.1 M287.5,71.0V71.5 M288.0,71.2V75.3 M289.0,65.9V68.8 M289.5,66.7V70.1 M290.0,67.5V72.2 M290.5,67.5V68.1 M291.0,68.1V82.5 M291.5,68.0V75.5 M292.0,67.9V68.3 M292.5,70.2V71.6 M293.0,72.7V74.9 M293.5,71.6V74.2 M294.0,69.9V74.3 M294.5,68.8V69.9 M295.0,68.0V68.7 M295.5,67.4V70.6 M296.0,67.2V71.3 M296.5,66.8V68.3 M297.0,66.2V66.6 M298.0,64.4V68.1 M298.5,63.5V66.4 M299.0,64.7V67.2 M299.5,66.4V74.7 M300.0,69.3V80.2 M300.5,72.0V74.7 M301.0,73.6V74.2 M302.0,71.8V75.3 M302.5,70.3V82.4 M303.0,71.5V71.9 M303.5,72.8V75.9" fill="none" stroke="#0072BD" stroke-width="0.42"/>
<rect x="220" y="7.1" width="134.7" height="95.9" fill="none" stroke="#8c8c8c" stroke-width="0.5"/>
<line x1="220.00" y1="103.0" x2="220.00" y2="101.7" stroke="#8c8c8c" stroke-width="0.5"/>
<line x1="220.00" y1="7.1" x2="220.00" y2="8.4" stroke="#8c8c8c" stroke-width="0.5"/>
<line x1="264.90" y1="103.0" x2="264.90" y2="101.7" stroke="#8c8c8c" stroke-width="0.5"/>
<line x1="264.90" y1="7.1" x2="264.90" y2="8.4" stroke="#8c8c8c" stroke-width="0.5"/>
<line x1="309.80" y1="103.0" x2="309.80" y2="101.7" stroke="#8c8c8c" stroke-width="0.5"/>
<line x1="309.80" y1="7.1" x2="309.80" y2="8.4" stroke="#8c8c8c" stroke-width="0.5"/>
<line x1="354.70" y1="103.0" x2="354.70" y2="101.7" stroke="#8c8c8c" stroke-width="0.5"/>
<line x1="354.70" y1="7.1" x2="354.70" y2="8.4" stroke="#8c8c8c" stroke-width="0.5"/>
<line x1="220" y1="103.00" x2="221.3" y2="103.00" stroke="#8c8c8c" stroke-width="0.5"/>
<line x1="354.7" y1="103.00" x2="353.4" y2="103.00" stroke="#8c8c8c" stroke-width="0.5"/>
<text transform="translate(217.60,106.30) scale(1,1.07)" text-anchor="end" class="t">0</text>
<line x1="220" y1="83.82" x2="221.3" y2="83.82" stroke="#8c8c8c" stroke-width="0.5"/>
<line x1="354.7" y1="83.82" x2="353.4" y2="83.82" stroke="#8c8c8c" stroke-width="0.5"/>
<text transform="translate(217.60,87.12) scale(1,1.07)" text-anchor="end" class="t">0.2</text>
<line x1="220" y1="64.64" x2="221.3" y2="64.64" stroke="#8c8c8c" stroke-width="0.5"/>
<line x1="354.7" y1="64.64" x2="353.4" y2="64.64" stroke="#8c8c8c" stroke-width="0.5"/>
<text transform="translate(217.60,67.94) scale(1,1.07)" text-anchor="end" class="t">0.4</text>
<line x1="220" y1="45.46" x2="221.3" y2="45.46" stroke="#8c8c8c" stroke-width="0.5"/>
<line x1="354.7" y1="45.46" x2="353.4" y2="45.46" stroke="#8c8c8c" stroke-width="0.5"/>
<text transform="translate(217.60,48.76) scale(1,1.07)" text-anchor="end" class="t">0.6</text>
<line x1="220" y1="26.28" x2="221.3" y2="26.28" stroke="#8c8c8c" stroke-width="0.5"/>
<line x1="354.7" y1="26.28" x2="353.4" y2="26.28" stroke="#8c8c8c" stroke-width="0.5"/>
<text transform="translate(217.60,29.58) scale(1,1.07)" text-anchor="end" class="t">0.8</text>
<line x1="220" y1="7.10" x2="221.3" y2="7.10" stroke="#8c8c8c" stroke-width="0.5"/>
<line x1="354.7" y1="7.10" x2="353.4" y2="7.10" stroke="#8c8c8c" stroke-width="0.5"/>
<text transform="translate(217.60,10.40) scale(1,1.07)" text-anchor="end" class="t">1</text>
<text transform="translate(220.00,115.00) scale(1,1.07)" text-anchor="middle" class="t">0</text>
<text transform="translate(264.90,115.00) scale(1,1.07)" text-anchor="middle" class="t">0.5</text>
<text transform="translate(309.80,115.00) scale(1,1.07)" text-anchor="middle" class="t">1</text>
<text transform="translate(354.70,115.00) scale(1,1.07)" text-anchor="middle" class="t">1.5</text>
<text transform="translate(287.35,126.60) scale(1,1.07)" text-anchor="middle" class="l">Time[s]</text>
<text transform="translate(354.40,127.80) scale(1,1.07)" text-anchor="end" class="t"><tspan fill="#555" stroke="none">×</tspan><tspan dx="0.8">10</tspan><tspan dy="-3.6" font-size="6.4">-4</tspan></text>
<text transform="translate(202.80,55.05) scale(1,1.07) rotate(-90)" text-anchor="middle" class="l">Normalized Power</text>
<rect x="411.4" y="7.1" width="133.60000000000002" height="95.9" fill="#fff"/>
<line x1="411.40" y1="7.1" x2="411.40" y2="103.0" stroke="#e9e9e9" stroke-width="0.5"/>
<line x1="475.79" y1="7.1" x2="475.79" y2="103.0" stroke="#e9e9e9" stroke-width="0.5"/>
<line x1="540.17" y1="7.1" x2="540.17" y2="103.0" stroke="#e9e9e9" stroke-width="0.5"/>
<line x1="411.4" y1="103.00" x2="545.0" y2="103.00" stroke="#e9e9e9" stroke-width="0.5"/>
<line x1="411.4" y1="83.82" x2="545.0" y2="83.82" stroke="#e9e9e9" stroke-width="0.5"/>
<line x1="411.4" y1="64.64" x2="545.0" y2="64.64" stroke="#e9e9e9" stroke-width="0.5"/>
<line x1="411.4" y1="45.46" x2="545.0" y2="45.46" stroke="#e9e9e9" stroke-width="0.5"/>
<line x1="411.4" y1="26.28" x2="545.0" y2="26.28" stroke="#e9e9e9" stroke-width="0.5"/>
<line x1="411.4" y1="7.10" x2="545.0" y2="7.10" stroke="#e9e9e9" stroke-width="0.5"/>
<polygon points="411.4,75.8 411.9,73.4 412.4,70.5 412.9,70.6 413.4,71.8 413.9,74.3 414.4,74.0 414.9,76.3 415.4,77.6 415.9,74.6 416.4,71.5 416.9,70.2 417.4,68.9 417.9,67.5 418.4,71.2 418.9,71.6 419.4,72.4 419.9,74.6 420.4,73.0 420.9,70.6 421.4,10.1 421.9,11.8 422.4,14.0 422.9,15.5 423.4,13.3 423.9,15.0 424.4,14.0 424.9,16.1 425.4,18.0 425.9,19.2 426.4,18.2 426.9,17.5 427.4,18.9 427.9,71.0 428.4,70.4 428.9,71.4 429.4,70.5 429.9,70.8 430.4,72.5 430.9,74.9 431.4,75.4 431.9,74.2 432.4,76.3 432.9,74.1 433.4,73.5 433.9,72.6 434.4,73.6 434.9,75.0 435.4,76.5 435.9,73.0 436.4,72.9 436.9,72.4 437.4,74.3 437.9,71.5 438.4,69.8 438.9,69.1 439.4,69.1 439.9,70.9 440.4,71.1 440.9,70.2 441.4,67.8 441.9,73.6 442.4,73.3 442.9,73.5 443.4,74.5 443.9,70.6 444.4,72.6 444.9,71.0 445.4,71.4 445.9,74.2 446.4,74.2 446.9,72.4 447.4,73.0 447.9,73.0 448.4,74.3 448.9,72.6 449.4,74.5 449.9,73.9 450.4,74.9 450.9,76.4 451.4,75.2 451.9,76.0 452.4,73.1 452.9,75.6 453.4,75.6 453.9,75.6 454.4,75.7 454.9,74.0 455.4,75.0 455.9,74.0 456.4,73.4 456.9,75.1 457.4,73.1 457.9,73.6 458.4,75.1 458.9,74.3 459.4,73.3 459.9,75.6 460.4,76.7 460.9,77.0 461.4,76.2 461.9,75.9 462.4,75.1 462.9,73.1 463.4,71.6 463.9,70.8 464.4,70.2 464.9,70.0 465.4,69.9 465.9,69.5 466.4,71.0 466.9,70.8 467.4,73.1 467.9,71.0 468.4,72.5 468.9,74.6 469.4,74.5 469.9,73.5 470.4,72.7 470.9,74.3 471.4,74.7 471.9,75.2 472.4,75.8 472.9,76.5 473.4,75.9 473.9,76.4 474.4,75.1 474.9,73.5 475.4,73.5 475.9,73.9 476.4,69.4 476.9,70.7 477.4,71.6 477.9,71.7 478.4,72.2 478.9,71.5 479.4,71.7 479.9,74.1 480.4,72.5 480.9,73.4 481.4,72.4 481.9,72.9 482.4,71.1 482.9,71.6 483.4,73.7 483.9,76.0 484.4,73.3 484.9,72.8 485.4,73.4 485.9,74.3 486.4,74.7 486.9,73.2 487.4,72.6 487.9,69.6 488.4,72.1 488.9,71.4 489.4,72.1 489.9,70.1 490.4,70.9 490.9,74.4 491.4,72.7 491.9,73.5 492.4,73.3 492.9,73.9 493.4,70.8 493.9,70.6 494.4,71.7 494.9,74.9 495.4,76.2 495.9,74.5 496.4,75.0 496.9,72.9 497.4,69.0 497.9,72.1 498.4,73.2 498.9,70.6 499.4,70.9 499.9,71.4 500.4,73.0 500.9,73.9 501.4,74.1 501.9,73.7 502.4,70.8 502.9,72.2 503.4,70.5 503.9,72.2 504.4,71.2 504.9,71.2 505.4,73.1 505.9,75.1 506.4,74.3 506.9,77.1 507.4,74.9 507.9,73.2 508.4,71.6 508.9,73.7 509.4,73.4 509.9,72.7 510.4,72.0 510.9,71.1 511.4,71.0 511.9,71.1 512.4,70.3 512.9,70.2 513.4,71.7 513.9,72.7 514.4,76.2 514.9,76.9 515.4,74.9 515.9,73.7 516.4,75.3 516.9,74.9 517.4,72.5 517.9,71.3 518.4,71.9 518.9,72.7 519.4,73.2 519.9,73.8 520.4,73.2 520.9,73.1 521.4,72.4 521.9,73.4 522.4,74.0 522.9,76.0 523.4,76.1 523.9,76.6 524.4,74.5 524.9,75.0 525.4,74.1 525.9,73.2 526.4,71.1 526.9,69.9 527.4,71.3 527.9,71.9 528.4,70.4 528.9,72.1 529.4,73.2 529.9,72.1 530.4,71.0 530.9,72.4 531.4,72.1 531.9,71.6 532.4,74.4 532.9,74.7 533.4,75.2 533.9,74.1 534.4,72.6 534.9,68.4 535.4,67.4 535.9,68.9 536.4,67.8 536.9,69.6 537.4,71.0 537.9,74.3 538.4,75.1 538.9,75.6 539.4,73.8 539.9,72.2 540.4,75.8 540.9,78.2 541.4,78.7 541.9,76.8 542.4,73.2 542.9,73.8 543.4,75.7 543.9,75.1 544.4,75.8 544.9,77.0 544.9,101.0 544.4,100.9 543.9,101.7 543.4,102.2 542.9,102.1 542.4,101.8 541.9,102.2 541.4,101.0 540.9,102.0 540.4,101.3 539.9,99.0 539.4,102.3 538.9,101.1 538.4,102.1 537.9,102.4 537.4,102.2 536.9,102.2 536.4,102.3 535.9,102.2 535.4,101.5 534.9,100.0 534.4,100.7 533.9,102.3 533.4,99.9 532.9,101.0 532.4,101.6 531.9,102.4 531.4,101.9 530.9,101.5 530.4,102.4 529.9,101.4 529.4,101.1 528.9,100.5 528.4,102.4 527.9,101.7 527.4,102.1 526.9,101.8 526.4,102.3 525.9,102.1 525.4,100.9 524.9,102.3 524.4,102.0 523.9,102.1 523.4,101.9 522.9,101.8 522.4,102.1 521.9,101.9 521.4,102.4 520.9,102.2 520.4,102.3 519.9,102.4 519.4,101.7 518.9,102.1 518.4,102.2 517.9,102.4 517.4,102.2 516.9,101.6 516.4,101.0 515.9,102.4 515.4,97.6 514.9,102.1 514.4,101.9 513.9,102.2 513.4,101.8 512.9,101.4 512.4,101.6 511.9,101.1 511.4,102.3 510.9,97.7 510.4,101.8 509.9,102.1 509.4,102.3 508.9,100.9 508.4,102.2 507.9,102.0 507.4,102.3 506.9,100.5 506.4,101.8 505.9,99.6 505.4,102.4 504.9,102.2 504.4,101.5 503.9,101.9 503.4,102.2 502.9,100.7 502.4,101.9 501.9,102.4 501.4,98.4 500.9,101.7 500.4,101.7 499.9,101.8 499.4,102.3 498.9,101.3 498.4,102.3 497.9,102.2 497.4,102.2 496.9,100.8 496.4,101.6 495.9,101.9 495.4,102.3 494.9,102.1 494.4,101.3 493.9,101.8 493.4,101.6 492.9,101.0 492.4,101.5 491.9,100.5 491.4,102.4 490.9,101.5 490.4,102.2 489.9,101.7 489.4,101.5 488.9,99.3 488.4,102.4 487.9,102.4 487.4,102.1 486.9,102.0 486.4,101.7 485.9,101.7 485.4,102.3 484.9,102.1 484.4,100.4 483.9,101.5 483.4,101.4 482.9,101.1 482.4,102.2 481.9,102.3 481.4,100.9 480.9,101.5 480.4,102.2 479.9,101.5 479.4,102.4 478.9,102.0 478.4,100.4 477.9,102.2 477.4,101.9 476.9,102.2 476.4,101.7 475.9,101.4 475.4,101.8 474.9,101.4 474.4,101.4 473.9,101.9 473.4,102.2 472.9,102.2 472.4,102.4 471.9,102.0 471.4,100.1 470.9,101.8 470.4,101.6 469.9,101.7 469.4,100.5 468.9,101.4 468.4,101.3 467.9,102.2 467.4,101.8 466.9,101.6 466.4,101.8 465.9,101.4 465.4,101.6 464.9,102.2 464.4,101.6 463.9,102.4 463.4,101.2 462.9,102.0 462.4,102.3 461.9,102.3 461.4,101.8 460.9,102.0 460.4,101.5 459.9,101.5 459.4,101.5 458.9,102.4 458.4,101.7 457.9,102.3 457.4,101.8 456.9,101.7 456.4,101.9 455.9,102.4 455.4,101.8 454.9,99.7 454.4,102.4 453.9,102.0 453.4,102.0 452.9,101.1 452.4,102.2 451.9,101.6 451.4,100.7 450.9,102.3 450.4,101.4 449.9,102.1 449.4,101.4 448.9,102.0 448.4,100.6 447.9,102.3 447.4,101.8 446.9,101.3 446.4,100.1 445.9,102.1 445.4,101.0 444.9,101.1 444.4,100.6 443.9,102.1 443.4,101.6 442.9,99.6 442.4,100.1 441.9,102.3 441.4,102.2 440.9,101.8 440.4,101.3 439.9,102.3 439.4,102.4 438.9,101.3 438.4,100.5 437.9,102.2 437.4,102.4 436.9,101.8 436.4,102.3 435.9,101.8 435.4,102.3 434.9,102.2 434.4,101.4 433.9,100.1 433.4,102.3 432.9,102.2 432.4,100.4 431.9,102.3 431.4,102.2 430.9,100.8 430.4,99.3 429.9,102.2 429.4,102.4 428.9,100.8 428.4,102.1 427.9,100.4 427.4,65.1 426.9,66.1 426.4,67.8 425.9,69.4 425.4,70.1 424.9,66.5 424.4,63.0 423.9,59.5 423.4,56.3 422.9,55.6 422.4,55.3 421.9,55.2 421.4,56.0 420.9,102.0 420.4,100.8 419.9,101.1 419.4,101.3 418.9,102.1 418.4,101.6 417.9,102.1 417.4,101.8 416.9,102.4 416.4,101.9 415.9,102.3 415.4,100.7 414.9,102.2 414.4,102.3 413.9,102.0 413.4,101.2 412.9,102.4 412.4,101.9 411.9,101.7 411.4,101.8" fill="#0072BD"/>
<path d="M411.4,75.8V75.1 M411.9,73.4V70.9 M412.4,70.5V68.8 M412.9,70.6V70.0 M413.4,71.8V67.9 M413.9,74.3V70.6 M414.4,74.0V74.0 M414.9,76.3V75.8 M415.4,77.6V77.0 M415.9,74.6V73.8 M416.4,71.5V64.1 M416.9,70.2V69.5 M417.4,68.9V68.2 M417.9,67.5V66.9 M418.4,71.2V67.1 M418.9,71.6V70.7 M419.4,72.4V71.6 M419.9,74.6V73.2 M420.4,73.0V70.5 M420.9,70.6V67.5 M421.4,10.1V8.2 M421.9,11.8V10.8 M422.4,14.0V7.1 M422.9,15.5V13.2 M423.4,13.3V7.7 M423.9,15.0V7.1 M424.4,14.0V7.1 M424.9,16.1V12.8 M425.4,18.0V16.6 M425.9,19.2V12.2 M426.4,18.2V10.4 M426.9,17.5V12.2 M427.4,18.9V17.1 M427.9,71.0V68.0 M428.4,70.4V70.1 M428.9,71.4V70.0 M429.4,70.5V69.2 M429.9,70.8V70.5 M430.4,72.5V71.5 M430.9,74.9V74.4 M431.4,75.4V73.1 M431.9,74.2V70.4 M432.4,76.3V72.8 M432.9,74.1V72.0 M433.4,73.5V70.3 M433.9,72.6V71.2 M434.4,73.6V70.8 M434.9,75.0V73.8 M435.4,76.5V76.0 M435.9,73.0V69.5 M436.4,72.9V67.4 M436.9,72.4V72.1 M437.4,74.3V70.4 M437.9,71.5V71.4 M438.4,69.8V68.7 M438.9,69.1V62.7 M439.4,69.1V62.2 M439.9,70.9V68.4 M440.4,71.1V68.7 M440.9,70.2V68.3 M441.4,67.8V67.3 M441.9,73.6V64.5 M442.4,73.3V69.2 M442.9,73.5V70.3 M443.4,74.5V72.9 M443.9,70.6V65.3 M444.4,72.6V69.3 M444.9,71.0V68.2 M445.4,71.4V70.9 M445.9,74.2V68.0 M446.4,74.2V68.4 M446.9,72.4V71.3 M447.4,73.0V66.7 M447.9,73.0V72.0 M448.4,74.3V74.3 M448.9,72.6V69.4 M449.4,74.5V71.0 M449.9,73.9V72.8 M450.4,74.9V69.2 M450.9,76.4V73.6 M451.4,75.2V73.5 M451.9,76.0V73.8 M452.4,73.1V63.7 M452.9,75.6V72.8 M453.4,75.6V71.2 M453.9,75.6V67.0 M454.4,75.7V75.7 M454.9,74.0V64.6 M455.4,75.0V73.8 M455.9,74.0V73.7 M456.4,73.4V71.6 M456.9,75.1V72.3 M457.4,73.1V73.0 M457.9,73.6V71.2 M458.4,75.1V71.6 M458.9,74.3V72.8 M459.4,73.3V71.4 M459.9,75.6V72.8 M460.4,76.7V74.9 M460.9,77.0V76.8 M461.4,76.2V72.0 M461.9,75.9V71.5 M462.4,75.1V70.7 M462.9,73.1V69.3 M463.4,71.6V68.6 M463.9,70.8V70.6 M464.4,70.2V70.1 M464.9,70.0V64.4 M465.4,69.9V62.5 M465.9,69.5V68.9 M466.4,71.0V68.0 M466.9,70.8V66.0 M467.4,73.1V72.8 M467.9,71.0V69.4 M468.4,72.5V69.7 M468.9,74.6V74.4 M469.4,74.5V72.5 M469.9,73.5V71.7 M470.4,72.7V69.5 M470.9,74.3V74.1 M471.4,74.7V71.7 M471.9,75.2V75.0 M472.4,75.8V74.3 M472.9,76.5V76.1 M473.4,75.9V59.8 M473.9,76.4V75.5 M474.4,75.1V75.1 M474.9,73.5V72.9 M475.4,73.5V71.6 M475.9,73.9V72.5 M476.4,69.4V69.1 M476.9,70.7V68.1 M477.4,71.6V70.2 M477.9,71.7V71.6 M478.4,72.2V68.8 M478.9,71.5V70.8 M479.4,71.7V55.9 M479.9,74.1V67.0 M480.4,72.5V69.1 M480.9,73.4V73.4 M481.4,72.4V71.1 M481.9,72.9V71.1 M482.4,71.1V70.5 M482.9,71.6V67.8 M483.4,73.7V73.5 M483.9,76.0V75.2 M484.4,73.3V72.9 M484.9,72.8V72.4 M485.4,73.4V68.0 M485.9,74.3V73.0 M486.4,74.7V74.5 M486.9,73.2V71.1 M487.4,72.6V71.4 M487.9,69.6V68.1 M488.4,72.1V71.0 M488.9,71.4V69.7 M489.4,72.1V63.0 M489.9,70.1V62.3 M490.4,70.9V64.2 M490.9,74.4V73.3 M491.4,72.7V68.2 M491.9,73.5V66.6 M492.4,73.3V70.6 M492.9,73.9V70.9 M493.4,70.8V69.7 M493.9,70.6V68.2 M494.4,71.7V71.1 M494.9,74.9V72.7 M495.4,76.2V71.5 M495.9,74.5V73.3 M496.4,75.0V72.9 M496.9,72.9V72.6 M497.4,69.0V68.7 M497.9,72.1V66.7 M498.4,73.2V72.7 M498.9,70.6V69.5 M499.4,70.9V68.2 M499.9,71.4V70.9 M500.4,73.0V71.9 M500.9,73.9V71.8 M501.4,74.1V58.8 M501.9,73.7V71.1 M502.4,70.8V70.2 M502.9,72.2V66.5 M503.4,70.5V70.1 M503.9,72.2V70.9 M504.4,71.2V69.4 M504.9,71.2V70.4 M505.4,73.1V71.5 M505.9,75.1V74.0 M506.4,74.3V74.0 M506.9,77.1V75.8 M507.4,74.9V74.0 M507.9,73.2V73.2 M508.4,71.6V69.0 M508.9,73.7V69.7 M509.4,73.4V70.7 M509.9,72.7V68.3 M510.4,72.0V71.2 M510.9,71.1V66.7 M511.4,71.0V70.5 M511.9,71.1V66.5 M512.4,70.3V67.9 M512.9,70.2V68.7 M513.4,71.7V69.7 M513.9,72.7V68.7 M514.4,76.2V71.9 M514.9,76.9V76.4 M515.4,74.9V74.3 M515.9,73.7V71.3 M516.4,75.3V74.8 M516.9,74.9V70.3 M517.4,72.5V67.3 M517.9,71.3V67.5 M518.4,71.9V71.5 M518.9,72.7V71.3 M519.4,73.2V70.3 M519.9,73.8V73.0 M520.4,73.2V69.0 M520.9,73.1V66.2 M521.4,72.4V69.6 M521.9,73.4V70.9 M522.4,74.0V68.6 M522.9,76.0V74.0 M523.4,76.1V75.5 M523.9,76.6V75.9 M524.4,74.5V72.4 M524.9,75.0V64.1 M525.4,74.1V71.8 M525.9,73.2V73.0 M526.4,71.1V69.6 M526.9,69.9V62.7 M527.4,71.3V69.5 M527.9,71.9V70.3 M528.4,70.4V67.7 M528.9,72.1V59.3 M529.4,73.2V71.1 M529.9,72.1V66.9 M530.4,71.0V59.7 M530.9,72.4V72.3 M531.4,72.1V71.5 M531.9,71.6V69.3 M532.4,74.4V70.0 M532.9,74.7V74.6 M533.4,75.2V70.4 M533.9,74.1V73.7 M534.4,72.6V68.9 M534.9,68.4V62.0 M535.4,67.4V63.8 M535.9,68.9V52.6 M536.4,67.8V67.4 M536.9,69.6V62.1 M537.4,71.0V70.3 M537.9,74.3V74.0 M538.4,75.1V67.8 M538.9,75.6V74.5 M539.4,73.8V70.9 M539.9,72.2V72.1 M540.4,75.8V71.4 M540.9,78.2V77.1 M541.4,78.7V78.3 M541.9,76.8V72.5 M542.4,73.2V71.5 M542.9,73.8V73.6 M543.4,75.7V67.0 M543.9,75.1V64.0 M544.4,75.8V73.9 M544.9,77.0V74.2 M421.4,56.0V56.7 M421.9,55.2V56.0 M422.4,55.3V55.9 M422.9,55.6V57.6 M423.4,56.3V59.2 M423.9,59.5V64.7 M424.4,63.0V64.7 M424.9,66.5V71.1 M425.4,70.1V70.9 M425.9,69.4V76.3 M426.4,67.8V70.8 M426.9,66.1V78.1 M427.4,65.1V67.0" fill="none" stroke="#0072BD" stroke-width="0.42"/>
<rect x="411.4" y="7.1" width="133.60000000000002" height="95.9" fill="none" stroke="#8c8c8c" stroke-width="0.5"/>
<line x1="411.40" y1="103.0" x2="411.40" y2="101.7" stroke="#8c8c8c" stroke-width="0.5"/>
<line x1="411.40" y1="7.1" x2="411.40" y2="8.4" stroke="#8c8c8c" stroke-width="0.5"/>
<line x1="475.79" y1="103.0" x2="475.79" y2="101.7" stroke="#8c8c8c" stroke-width="0.5"/>
<line x1="475.79" y1="7.1" x2="475.79" y2="8.4" stroke="#8c8c8c" stroke-width="0.5"/>
<line x1="540.17" y1="103.0" x2="540.17" y2="101.7" stroke="#8c8c8c" stroke-width="0.5"/>
<line x1="540.17" y1="7.1" x2="540.17" y2="8.4" stroke="#8c8c8c" stroke-width="0.5"/>
<line x1="411.4" y1="103.00" x2="412.7" y2="103.00" stroke="#8c8c8c" stroke-width="0.5"/>
<line x1="545.0" y1="103.00" x2="543.7" y2="103.00" stroke="#8c8c8c" stroke-width="0.5"/>
<text transform="translate(409.00,106.30) scale(1,1.07)" text-anchor="end" class="t">0</text>
<line x1="411.4" y1="83.82" x2="412.7" y2="83.82" stroke="#8c8c8c" stroke-width="0.5"/>
<line x1="545.0" y1="83.82" x2="543.7" y2="83.82" stroke="#8c8c8c" stroke-width="0.5"/>
<text transform="translate(409.00,87.12) scale(1,1.07)" text-anchor="end" class="t">0.2</text>
<line x1="411.4" y1="64.64" x2="412.7" y2="64.64" stroke="#8c8c8c" stroke-width="0.5"/>
<line x1="545.0" y1="64.64" x2="543.7" y2="64.64" stroke="#8c8c8c" stroke-width="0.5"/>
<text transform="translate(409.00,67.94) scale(1,1.07)" text-anchor="end" class="t">0.4</text>
<line x1="411.4" y1="45.46" x2="412.7" y2="45.46" stroke="#8c8c8c" stroke-width="0.5"/>
<line x1="545.0" y1="45.46" x2="543.7" y2="45.46" stroke="#8c8c8c" stroke-width="0.5"/>
<text transform="translate(409.00,48.76) scale(1,1.07)" text-anchor="end" class="t">0.6</text>
<line x1="411.4" y1="26.28" x2="412.7" y2="26.28" stroke="#8c8c8c" stroke-width="0.5"/>
<line x1="545.0" y1="26.28" x2="543.7" y2="26.28" stroke="#8c8c8c" stroke-width="0.5"/>
<text transform="translate(409.00,29.58) scale(1,1.07)" text-anchor="end" class="t">0.8</text>
<line x1="411.4" y1="7.10" x2="412.7" y2="7.10" stroke="#8c8c8c" stroke-width="0.5"/>
<line x1="545.0" y1="7.10" x2="543.7" y2="7.10" stroke="#8c8c8c" stroke-width="0.5"/>
<text transform="translate(409.00,10.40) scale(1,1.07)" text-anchor="end" class="t">1</text>
<text transform="translate(411.40,115.00) scale(1,1.07)" text-anchor="middle" class="t">0</text>
<text transform="translate(475.79,115.00) scale(1,1.07)" text-anchor="middle" class="t">1</text>
<text transform="translate(540.17,115.00) scale(1,1.07)" text-anchor="middle" class="t">2</text>
<text transform="translate(478.20,126.60) scale(1,1.07)" text-anchor="middle" class="l">Time[s]</text>
<text transform="translate(544.70,127.80) scale(1,1.07)" text-anchor="end" class="t"><tspan fill="#555" stroke="none">×</tspan><tspan dx="0.8">10</tspan><tspan dy="-3.6" font-size="6.4">-4</tspan></text>
<text transform="translate(393.80,55.05) scale(1,1.07) rotate(-90)" text-anchor="middle" class="l">Normalized Power</text>
<rect x="25" y="164.6" width="136.7" height="93.29999999999998" fill="#3f2fc8"/>
<rect x="25" y="164.6" width="136.7" height="93.3" fill="#5040e0" filter="url(#nz)" opacity="0.32"/>
<linearGradient id="g25" gradientUnits="userSpaceOnUse" x1="33.1" y1="211" x2="62.7" y2="180"><stop offset="0" stop-color="#2f8df5"/><stop offset="0.12" stop-color="#3fc4b0"/><stop offset="0.3" stop-color="#b5d95a"/><stop offset="0.7" stop-color="#b5d95a"/><stop offset="0.88" stop-color="#3fc4b0"/><stop offset="1" stop-color="#2f8df5"/></linearGradient>
<line x1="33.1" y1="211" x2="62.7" y2="180" stroke="#2f8df5" stroke-width="2.4" stroke-linecap="round" opacity="0.45"/>
<line x1="33.1" y1="211" x2="62.7" y2="180" stroke="#3fc4b0" stroke-width="1.3" stroke-linecap="round" opacity="0.8"/>
<line x1="33.1" y1="211" x2="62.7" y2="180" stroke="url(#g25)" stroke-width="0.7" stroke-linecap="round"/>
<text transform="translate(22.40,183.55) scale(1,1.07)" text-anchor="end" class="t">1</text>
<text transform="translate(22.40,214.65) scale(1,1.07)" text-anchor="end" class="t">0</text>
<text transform="translate(22.40,245.75) scale(1,1.07)" text-anchor="end" class="t">-1</text>
<text transform="translate(25.00,269.90) scale(1,1.07)" text-anchor="middle" class="t">0</text>
<text transform="translate(53.63,269.90) scale(1,1.07)" text-anchor="middle" class="t">2</text>
<text transform="translate(82.26,269.90) scale(1,1.07)" text-anchor="middle" class="t">4</text>
<text transform="translate(110.88,269.90) scale(1,1.07)" text-anchor="middle" class="t">6</text>
<text transform="translate(139.51,269.90) scale(1,1.07)" text-anchor="middle" class="t">8</text>
<text transform="translate(93.35,281.50) scale(1,1.07)" text-anchor="middle" class="l">Time[s]</text>
<text transform="translate(162.20,282.70) scale(1,1.07)" text-anchor="end" class="t"><tspan fill="#555" stroke="none">×</tspan><tspan dx="0.8">10</tspan><tspan dy="-3.6" font-size="6.4">-5</tspan></text>
<text transform="translate(25.90,162.60) scale(1,1.07)" text-anchor="start" class="t"><tspan fill="#555" stroke="none">×</tspan><tspan dx="0.8">10</tspan><tspan dy="-3.6" font-size="6.4">8</tspan></text>
<text transform="translate(11.00,211.25) scale(1,1.07) rotate(-90)" text-anchor="middle" class="l">Frequency[Hz]</text>
<rect x="216.1" y="164.6" width="136.9" height="93.29999999999998" fill="#3e29b4"/>
<linearGradient id="g216" gradientUnits="userSpaceOnUse" x1="281.0" y1="201.5" x2="311.3" y2="186.3"><stop offset="0" stop-color="#2f7df5"/><stop offset="0.12" stop-color="#38a8e8"/><stop offset="0.3" stop-color="#9fdcc0"/><stop offset="0.7" stop-color="#9fdcc0"/><stop offset="0.88" stop-color="#38a8e8"/><stop offset="1" stop-color="#2f7df5"/></linearGradient>
<line x1="281.0" y1="201.5" x2="311.3" y2="186.3" stroke="#2f7df5" stroke-width="1.8" stroke-linecap="round" opacity="0.45"/>
<line x1="281.0" y1="201.5" x2="311.3" y2="186.3" stroke="#38a8e8" stroke-width="1.0" stroke-linecap="round" opacity="0.8"/>
<line x1="281.0" y1="201.5" x2="311.3" y2="186.3" stroke="url(#g216)" stroke-width="0.65" stroke-linecap="round"/>
<text transform="translate(213.50,183.55) scale(1,1.07)" text-anchor="end" class="t">1</text>
<text transform="translate(213.50,214.65) scale(1,1.07)" text-anchor="end" class="t">0</text>
<text transform="translate(213.50,245.75) scale(1,1.07)" text-anchor="end" class="t">-1</text>
<text transform="translate(216.10,269.90) scale(1,1.07)" text-anchor="middle" class="t">0</text>
<text transform="translate(267.57,269.90) scale(1,1.07)" text-anchor="middle" class="t">5</text>
<text transform="translate(319.03,269.90) scale(1,1.07)" text-anchor="middle" class="t">10</text>
<text transform="translate(284.55,281.50) scale(1,1.07)" text-anchor="middle" class="l">Time[s]</text>
<text transform="translate(352.70,282.70) scale(1,1.07)" text-anchor="end" class="t"><tspan fill="#555" stroke="none">×</tspan><tspan dx="0.8">10</tspan><tspan dy="-3.6" font-size="6.4">-5</tspan></text>
<text transform="translate(217.00,162.60) scale(1,1.07)" text-anchor="start" class="t"><tspan fill="#555" stroke="none">×</tspan><tspan dx="0.8">10</tspan><tspan dy="-3.6" font-size="6.4">8</tspan></text>
<text transform="translate(201.50,211.25) scale(1,1.07) rotate(-90)" text-anchor="middle" class="l">Frequency[Hz]</text>
<rect x="407.2" y="164.6" width="137.2" height="93.29999999999998" fill="#3e28b0"/>
<linearGradient id="g407" gradientUnits="userSpaceOnUse" x1="416.5" y1="192.3" x2="422.5" y2="183.2"><stop offset="0" stop-color="#2f7df5"/><stop offset="0.12" stop-color="#38a8e8"/><stop offset="0.3" stop-color="#7fd0d8"/><stop offset="0.7" stop-color="#7fd0d8"/><stop offset="0.88" stop-color="#38a8e8"/><stop offset="1" stop-color="#2f7df5"/></linearGradient>
<line x1="416.5" y1="192.3" x2="422.5" y2="183.2" stroke="#2f7df5" stroke-width="1.7" stroke-linecap="round" opacity="0.45"/>
<line x1="416.5" y1="192.3" x2="422.5" y2="183.2" stroke="#38a8e8" stroke-width="0.95" stroke-linecap="round" opacity="0.8"/>
<line x1="416.5" y1="192.3" x2="422.5" y2="183.2" stroke="url(#g407)" stroke-width="0.6" stroke-linecap="round"/>
<text transform="translate(404.60,183.55) scale(1,1.07)" text-anchor="end" class="t">1</text>
<text transform="translate(404.60,214.65) scale(1,1.07)" text-anchor="end" class="t">0</text>
<text transform="translate(404.60,245.75) scale(1,1.07)" text-anchor="end" class="t">-1</text>
<text transform="translate(407.20,269.90) scale(1,1.07)" text-anchor="middle" class="t">0</text>
<text transform="translate(473.10,269.90) scale(1,1.07)" text-anchor="middle" class="t">1</text>
<text transform="translate(539.00,269.90) scale(1,1.07)" text-anchor="middle" class="t">2</text>
<text transform="translate(475.80,281.50) scale(1,1.07)" text-anchor="middle" class="l">Time[s]</text>
<text transform="translate(543.40,282.70) scale(1,1.07)" text-anchor="end" class="t"><tspan fill="#555" stroke="none">×</tspan><tspan dx="0.8">10</tspan><tspan dy="-3.6" font-size="6.4">-4</tspan></text>
<text transform="translate(408.10,162.60) scale(1,1.07)" text-anchor="start" class="t"><tspan fill="#555" stroke="none">×</tspan><tspan dx="0.8">10</tspan><tspan dy="-3.6" font-size="6.4">8</tspan></text>
<text transform="translate(393.00,211.25) scale(1,1.07) rotate(-90)" text-anchor="middle" class="l">Frequency[Hz]</text>
<text x="99.8" y="148.3" text-anchor="middle" class="c">(a)</text>
<text x="290.2" y="148.3" text-anchor="middle" class="c">(b)</text>
<text x="484.8" y="148.3" text-anchor="middle" class="c">(c)</text>
<text x="100" y="300.8" text-anchor="middle" class="c">(d)</text>
<text x="290.5" y="300.8" text-anchor="middle" class="c">(e)</text>
<text x="484" y="300.8" text-anchor="middle" class="c">(f)</text>
</svg>
</body></html>
